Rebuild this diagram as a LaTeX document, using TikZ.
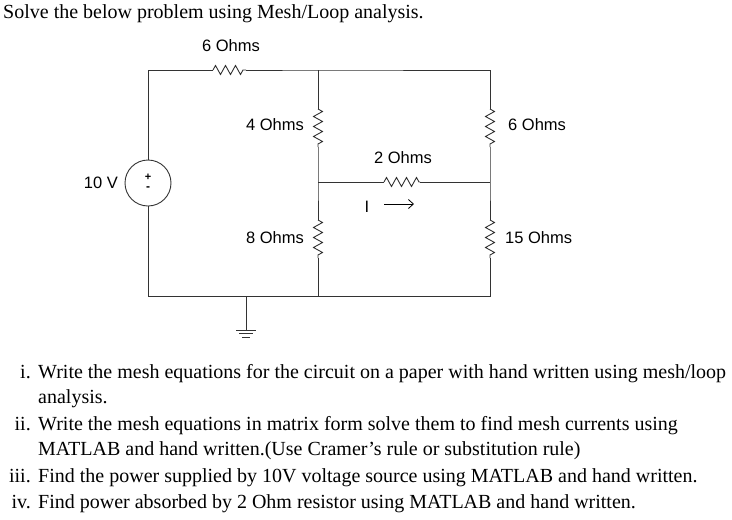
\documentclass[tikz,border=0pt]{standalone}
\usepackage{fontspec}
\setmainfont{Liberation Serif}
\newfontfamily\lab{Liberation Sans}
\usetikzlibrary{decorations.pathmorphing,arrows.meta}
\begin{document}
\begin{tikzpicture}[x=1pt,y=-1pt,
  wire/.style={line width=0.9pt,black!80},
  res/.style={wire,decorate,decoration={zigzag,segment length=10,amplitude=4.5}},
  lbl/.style={font=\lab\fontsize{16.5}{18}\selectfont,inner sep=0pt},
  txt/.style={font=\fontsize{20}{22}\selectfont,anchor=base west,inner sep=0pt}]
\useasboundingbox (0,0) rectangle (732,520);
\coordinate (tl) at (148,70); \coordinate (tm) at (318,70); \coordinate (tr) at (490,70);
\coordinate (ml) at (148,183); \coordinate (mm) at (318,182); \coordinate (mr) at (490,182);
\coordinate (bl) at (148,296); \coordinate (bm) at (318,296); \coordinate (br) at (490,296);
\coordinate (gnd) at (246,296); \coordinate (gb) at (246,330);
\node[circle,draw,wire,minimum size=46pt,inner sep=0pt] (src) at (ml) {};
\node[font=\lab\bfseries\fontsize{11}{11}\selectfont,inner sep=0pt] at (148,177) {+};
\node[font=\lab\bfseries\fontsize{12}{12}\selectfont,inner sep=0pt] at (148,189) {-};
\node[lbl,anchor=east] at (118,183) {10 V};
\draw[wire] (src.north) -- (tl) -- (213,70);
\draw[res] (213,70) -- (246,70);
\draw[wire] (246,70) -- (tm) -- (tr) -- (490,109);
\draw[res] (490,109) -- (490,147);
\draw[wire] (490,147) -- (mr) -- (490,220);
\draw[res] (490,220) -- (490,258);
\draw[wire] (490,258) -- (br) -- (bl) -- (src.south);
\draw[wire] (tm) -- (318,109);
\draw[res] (318,109) -- (318,147);
\draw[wire] (318,147) -- (mm) -- (318,220);
\draw[res] (318,220) -- (318,258);
\draw[wire] (318,258) -- (bm);
\draw[wire] (mm) -- (384,182);
\draw[res] (384,182) -- (420,182);
\draw[wire] (420,182) -- (mr);
\draw[wire] (gnd) -- (gb);
\draw[wire] (236,330) -- (256,330) (239,333.5) -- (253,333.5) (242,337) -- (250,337);
\node[lbl] at (231,46) {6 Ohms};
\node[lbl,anchor=east] at (304,125) {4 Ohms};
\node[lbl,anchor=east] at (304,238) {8 Ohms};
\node[lbl,anchor=west] at (508,125) {6 Ohms};
\node[lbl,anchor=west] at (505,238) {15 Ohms};
\node[lbl] at (403,158) {2 Ohms};
\node[lbl] at (367,207) {I};
\draw[line width=0.8pt,-{Straight Barb[length=5pt,width=9pt]}] (384,204) -- (414,204);
\node[txt] at (3,18) {Solve the below problem using Mesh/Loop analysis.};
\node[txt,anchor=base east] at (31,378) {i.};
\node[txt] at (38,378) {Write the mesh equations for the circuit on a paper with hand written using mesh/loop};
\node[txt] at (38,403) {analysis.};
\node[txt,anchor=base east] at (31,430) {ii.};
\node[txt] at (38,430) {Write the mesh equations in matrix form solve them to find mesh currents using};
\node[txt] at (38,455) {MATLAB and hand written.(Use Cramer’s rule or substitution rule)};
\node[txt,anchor=base east] at (31,482) {iii.};
\node[txt] at (38,482) {Find the power supplied by 10V voltage source using MATLAB and hand written.};
\node[txt,anchor=base east] at (31,508) {iv.};
\node[txt] at (38,508) {Find power absorbed by 2 Ohm resistor using MATLAB and hand written.};
\end{tikzpicture}
\end{document}
